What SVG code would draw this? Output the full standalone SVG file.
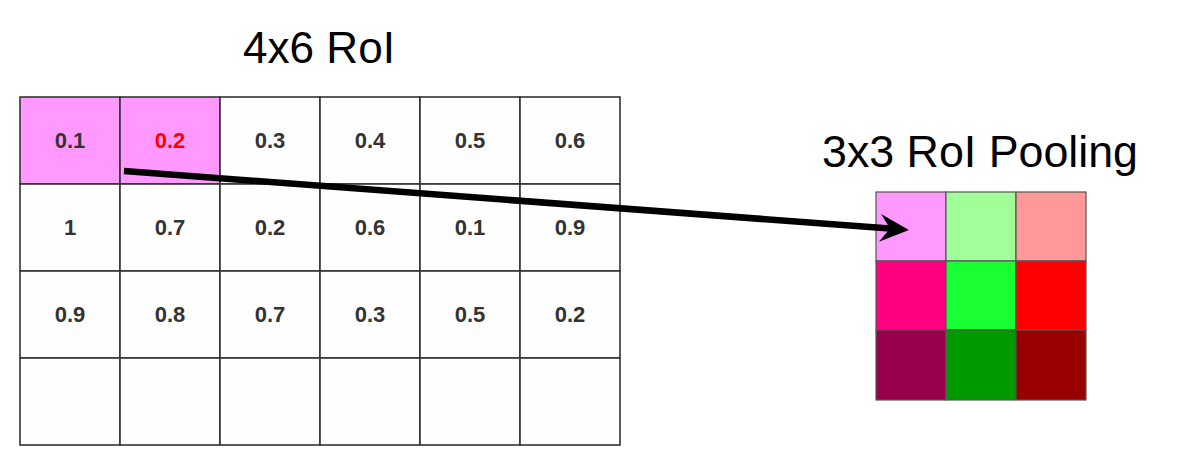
<svg xmlns="http://www.w3.org/2000/svg" width="1191" height="468" viewBox="0 0 1191 468">
<style>
.title{font-family:"Liberation Sans",Arial,sans-serif;font-size:44px;fill:#000}
.cell{fill:#fdfefd;stroke:#333;stroke-width:1.6}
.sel{fill:#ff99ff}
.num{font-family:"Liberation Sans",Arial,sans-serif;font-size:22px;font-weight:bold;fill:#333;text-anchor:middle}
.red{fill:#ff0000}
.pc{stroke:#555;stroke-width:1.2}
.arrow{stroke:#000;stroke-width:6.5;fill:none}
</style>
<defs>
<marker id="head" markerUnits="userSpaceOnUse" markerWidth="32" markerHeight="32" viewBox="-12 -16 32 32" refX="0" refY="0" orient="auto">
<path d="M19,0 L-10,-14 L0,0 L-10,14 Z" fill="#000"/>
</marker>
</defs>
<rect width="1191" height="468" fill="#fff"/>
<text class="title" x="243" y="63" textLength="152" lengthAdjust="spacingAndGlyphs">4x6 RoI</text>
<text class="title" x="822" y="167" textLength="316" lengthAdjust="spacingAndGlyphs">3x3 RoI Pooling</text>
<g id="roi">
<rect id="c00" class="cell sel" x="20" y="97" width="100" height="87"/>
<rect id="c01" class="cell sel" x="120" y="97" width="100" height="87"/>
<rect id="c02" class="cell" x="220" y="97" width="100" height="87"/>
<rect id="c03" class="cell" x="320" y="97" width="100" height="87"/>
<rect id="c04" class="cell" x="420" y="97" width="100" height="87"/>
<rect id="c05" class="cell" x="520" y="97" width="100" height="87"/>
<rect id="c10" class="cell" x="20" y="184" width="100" height="87"/>
<rect id="c11" class="cell" x="120" y="184" width="100" height="87"/>
<rect id="c12" class="cell" x="220" y="184" width="100" height="87"/>
<rect id="c13" class="cell" x="320" y="184" width="100" height="87"/>
<rect id="c14" class="cell" x="420" y="184" width="100" height="87"/>
<rect id="c15" class="cell" x="520" y="184" width="100" height="87"/>
<rect id="c20" class="cell" x="20" y="271" width="100" height="87"/>
<rect id="c21" class="cell" x="120" y="271" width="100" height="87"/>
<rect id="c22" class="cell" x="220" y="271" width="100" height="87"/>
<rect id="c23" class="cell" x="320" y="271" width="100" height="87"/>
<rect id="c24" class="cell" x="420" y="271" width="100" height="87"/>
<rect id="c25" class="cell" x="520" y="271" width="100" height="87"/>
<rect id="c30" class="cell" x="20" y="358" width="100" height="87"/>
<rect id="c31" class="cell" x="120" y="358" width="100" height="87"/>
<rect id="c32" class="cell" x="220" y="358" width="100" height="87"/>
<rect id="c33" class="cell" x="320" y="358" width="100" height="87"/>
<rect id="c34" class="cell" x="420" y="358" width="100" height="87"/>
<rect id="c35" class="cell" x="520" y="358" width="100" height="87"/>
<text class="num" x="70" y="148">0.1</text>
<text class="num red" x="170" y="148">0.2</text>
<text class="num" x="270" y="148">0.3</text>
<text class="num" x="370" y="148">0.4</text>
<text class="num" x="470" y="148">0.5</text>
<text class="num" x="570" y="148">0.6</text>
<text class="num" x="70" y="235">1</text>
<text class="num" x="170" y="235">0.7</text>
<text class="num" x="270" y="235">0.2</text>
<text class="num" x="370" y="235">0.6</text>
<text class="num" x="470" y="235">0.1</text>
<text class="num" x="570" y="235">0.9</text>
<text class="num" x="70" y="322">0.9</text>
<text class="num" x="170" y="322">0.8</text>
<text class="num" x="270" y="322">0.7</text>
<text class="num" x="370" y="322">0.3</text>
<text class="num" x="470" y="322">0.5</text>
<text class="num" x="570" y="322">0.2</text>
</g>
<g id="pool">
<rect id="p00" class="pc" x="876" y="192" width="70" height="69" fill="#ff99ff"/>
<rect id="p01" class="pc" x="946" y="192" width="70" height="69" fill="#a0ff99"/>
<rect id="p02" class="pc" x="1016" y="192" width="70" height="69" fill="#ff9999"/>
<rect id="p10" class="pc" x="876" y="261" width="70" height="69" fill="#ff0080"/>
<rect id="p11" class="pc" x="946" y="261" width="70" height="69" fill="#1aff33"/>
<rect id="p12" class="pc" x="1016" y="261" width="70" height="69" fill="#ff0000"/>
<rect id="p20" class="pc" x="876" y="330" width="70" height="70" fill="#99004c"/>
<rect id="p21" class="pc" x="946" y="330" width="70" height="70" fill="#009900"/>
<rect id="p22" class="pc" x="1016" y="330" width="70" height="70" fill="#990000"/>
</g>
<g id="connectors">
<line class="arrow" x1="124" y1="171" x2="890" y2="228.6" marker-end="url(#head)"/>
</g>
</svg>
